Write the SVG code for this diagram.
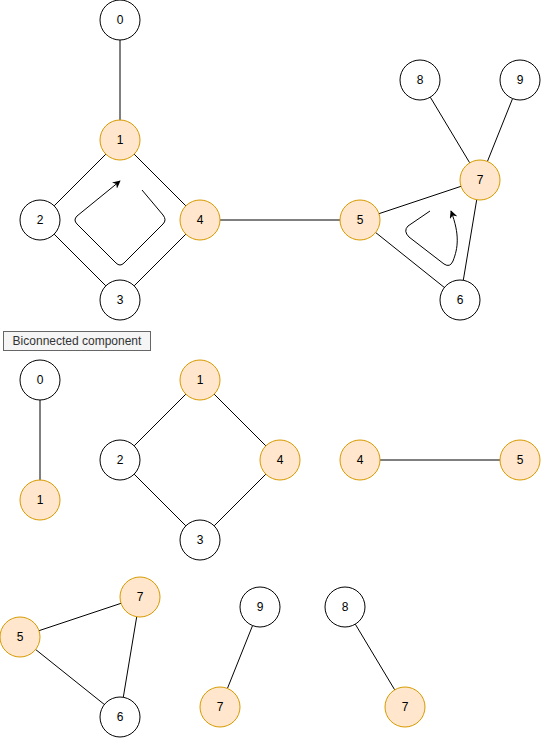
<svg xmlns="http://www.w3.org/2000/svg" width="541" height="739" viewBox="0 0 541 739">
<style>
.n circle{fill:#ffffff;stroke:#000000;stroke-width:1}
.n.o circle{fill:#ffe6cc;stroke:#d79b00}
.n text{font-family:"Liberation Sans",Arial,sans-serif;font-size:12px;fill:#000000;text-anchor:middle;dominant-baseline:central}
#edges line{stroke:#000000;stroke-width:1}
.cyc{fill:none;stroke:#000000;stroke-width:1}
.lbl rect{fill:#f5f5f5;stroke:#666666;stroke-width:1}
.lbl text{font-family:"Liberation Sans",Arial,sans-serif;font-size:12px;fill:#333333;text-anchor:middle;dominant-baseline:central}
</style>
<defs>
<marker id="arr" viewBox="0 0 10 10" refX="9" refY="5" markerWidth="8" markerHeight="8" markerUnits="userSpaceOnUse" orient="auto">
<path d="M0,0 L10,5 L0,10 L3,5 z" fill="#000000"/>
</marker>
</defs>
<rect width="541" height="739" fill="#ffffff"/>
<g id="edges">
<line x1="120" y1="40" x2="120" y2="120"/>
<line x1="105.86" y1="154.14" x2="54.14" y2="205.86"/>
<line x1="134.14" y1="154.14" x2="185.86" y2="205.86"/>
<line x1="54.14" y1="234.14" x2="105.86" y2="285.86"/>
<line x1="185.86" y1="234.14" x2="134.14" y2="285.86"/>
<line x1="220" y1="220" x2="340" y2="220"/>
<line x1="378.97" y1="213.68" x2="461.03" y2="186.32"/>
<line x1="375.62" y1="232.49" x2="444.38" y2="287.51"/>
<line x1="476.71" y1="199.73" x2="463.29" y2="280.27"/>
<line x1="430.29" y1="97.15" x2="469.71" y2="162.85"/>
<line x1="512.57" y1="98.57" x2="487.43" y2="161.43"/>
<line x1="40" y1="400" x2="40" y2="480"/>
<line x1="185.86" y1="394.14" x2="134.14" y2="445.86"/>
<line x1="214.14" y1="394.14" x2="265.86" y2="445.86"/>
<line x1="134.14" y1="474.14" x2="185.86" y2="525.86"/>
<line x1="265.86" y1="474.14" x2="214.14" y2="525.86"/>
<line x1="380" y1="460" x2="500" y2="460"/>
<line x1="38.97" y1="630.68" x2="121.03" y2="603.32"/>
<line x1="35.62" y1="649.49" x2="104.38" y2="704.51"/>
<line x1="136.71" y1="616.73" x2="123.29" y2="697.27"/>
<line x1="252.57" y1="625.57" x2="227.43" y2="688.43"/>
<line x1="355.29" y1="624.15" x2="394.71" y2="689.85"/>
<path class="cyc" d="M142,190 L163,215 Q167,220 163,224 L124,263 Q120,267 116,263 L77,224 Q73,220 77,216 L120,181" marker-end="url(#arr)"/>
<path class="cyc" d="M430,211 L408,226 Q403,231 409,237 L444,264 Q450,268 453,261 C458,248 460,235 451,211" marker-end="url(#arr)"/>
</g>
<g id="n0" class="n"><circle cx="120" cy="20" r="20"/><text x="120" y="20">0</text></g>
<g id="n1" class="n o"><circle cx="120" cy="140" r="20"/><text x="120" y="140">1</text></g>
<g id="n2" class="n"><circle cx="40" cy="220" r="20"/><text x="40" y="220">2</text></g>
<g id="n3" class="n"><circle cx="120" cy="300" r="20"/><text x="120" y="300">3</text></g>
<g id="n4" class="n o"><circle cx="200" cy="220" r="20"/><text x="200" y="220">4</text></g>
<g id="n5" class="n o"><circle cx="360" cy="220" r="20"/><text x="360" y="220">5</text></g>
<g id="n6" class="n"><circle cx="460" cy="300" r="20"/><text x="460" y="300">6</text></g>
<g id="n7" class="n o"><circle cx="480" cy="180" r="20"/><text x="480" y="180">7</text></g>
<g id="n8" class="n"><circle cx="420" cy="80" r="20"/><text x="420" y="80">8</text></g>
<g id="n9" class="n"><circle cx="520" cy="80" r="20"/><text x="520" y="80">9</text></g>
<g id="label" class="lbl"><rect x="3.5" y="331.5" width="147" height="19"/><text x="77" y="341">Biconnected component</text></g>
<g id="b1n0" class="n"><circle cx="40" cy="380" r="20"/><text x="40" y="380">0</text></g>
<g id="b1n1" class="n o"><circle cx="40" cy="500" r="20"/><text x="40" y="500">1</text></g>
<g id="b2n1" class="n o"><circle cx="200" cy="380" r="20"/><text x="200" y="380">1</text></g>
<g id="b2n2" class="n"><circle cx="120" cy="460" r="20"/><text x="120" y="460">2</text></g>
<g id="b2n4" class="n o"><circle cx="280" cy="460" r="20"/><text x="280" y="460">4</text></g>
<g id="b2n3" class="n"><circle cx="200" cy="540" r="20"/><text x="200" y="540">3</text></g>
<g id="b3n4" class="n o"><circle cx="360" cy="460" r="20"/><text x="360" y="460">4</text></g>
<g id="b3n5" class="n o"><circle cx="520" cy="460" r="20"/><text x="520" y="460">5</text></g>
<g id="b4n7" class="n o"><circle cx="140" cy="597" r="20"/><text x="140" y="597">7</text></g>
<g id="b4n5" class="n o"><circle cx="20" cy="637" r="20"/><text x="20" y="637">5</text></g>
<g id="b4n6" class="n"><circle cx="120" cy="717" r="20"/><text x="120" y="717">6</text></g>
<g id="b5n9" class="n"><circle cx="260" cy="607" r="20"/><text x="260" y="607">9</text></g>
<g id="b5n7" class="n o"><circle cx="220" cy="707" r="20"/><text x="220" y="707">7</text></g>
<g id="b6n8" class="n"><circle cx="345" cy="607" r="20"/><text x="345" y="607">8</text></g>
<g id="b6n7" class="n o"><circle cx="405" cy="707" r="20"/><text x="405" y="707">7</text></g>
</svg>
